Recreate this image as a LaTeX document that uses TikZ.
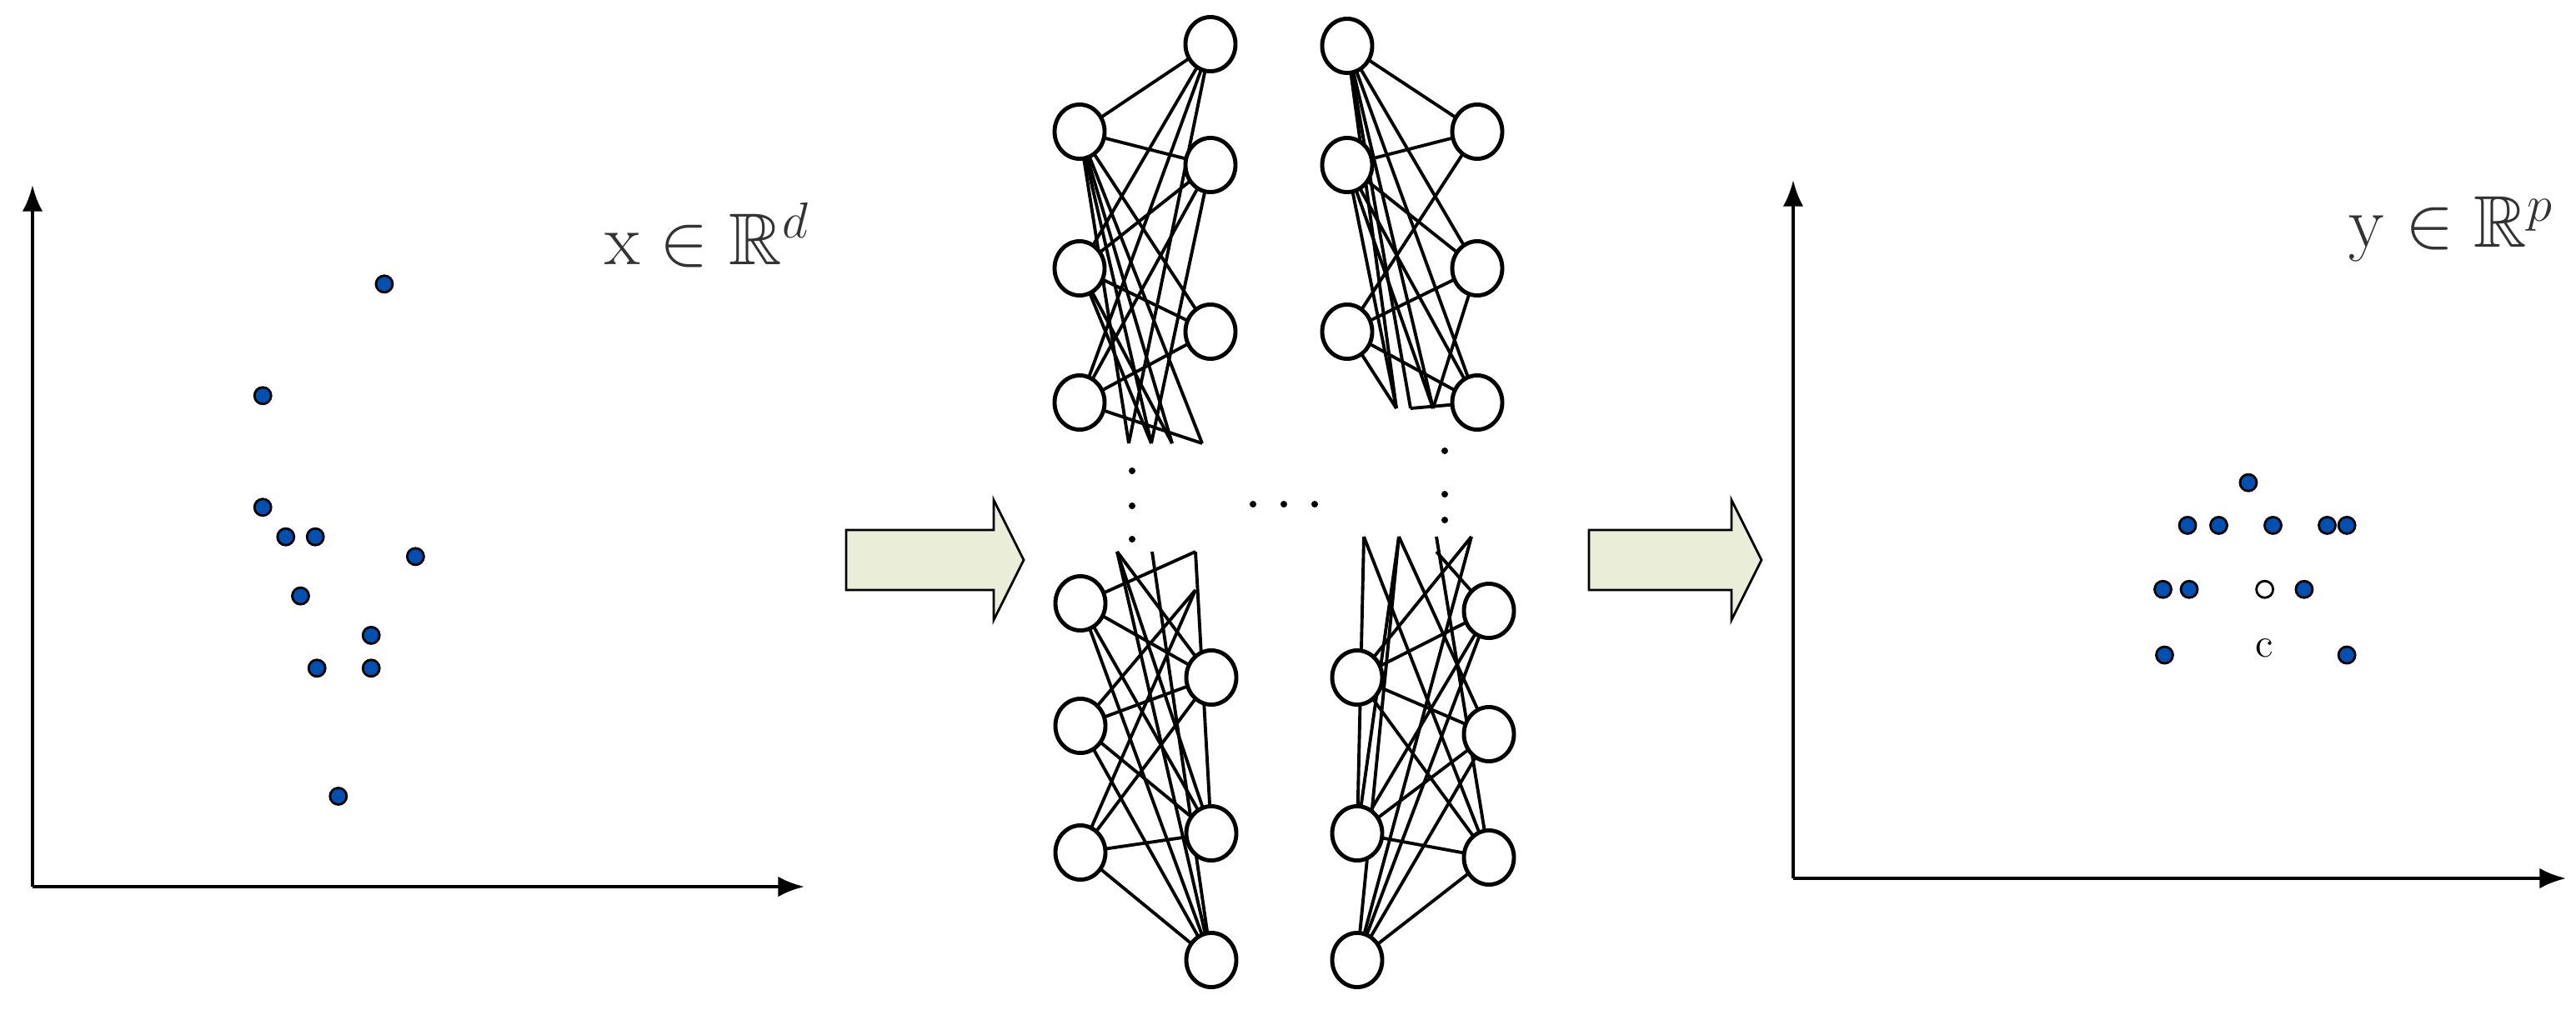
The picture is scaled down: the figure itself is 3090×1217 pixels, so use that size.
\documentclass[tikz,border=0pt]{standalone}
\usepackage{amssymb}
\usetikzlibrary{arrows.meta,shapes.geometric}
\begin{document}
\begin{tikzpicture}[x=0.01cm,y=-0.01cm,
  neuron/.style={ellipse,draw,line width=1.4pt,minimum width=6.0mm,minimum height=6.5mm,inner sep=0pt,fill=white},
  wire/.style={line width=1.1pt},
  pt/.style={circle,draw,line width=0.8pt,fill=blue!55!cyan!70!black,minimum size=2mm,inner sep=0pt},
  wpt/.style={pt,fill=white},
  ax/.style={line width=1.3pt,-{Latex[length=9pt,width=7pt]}},
  bigarrow/.style={draw,line width=0.8pt,fill=green!10!olive!15!white},
  lbl/.style={font=\fontsize{25}{30}\selectfont,text=black!80}]
\useasboundingbox (0,0) rectangle (3090,1217);
% axes
\coordinate (o1) at (39,1064); \coordinate (y1) at (39,222); \coordinate (x1) at (965,1064);
\draw[ax] (o1)--(y1); \draw[ax] (o1)--(x1);
\coordinate (o2) at (2151,1054); \coordinate (y2) at (2151,216); \coordinate (x2) at (3078,1054);
\draw[ax] (o2)--(y2); \draw[ax] (o2)--(x2);
\node[lbl] (lx) at (848,282) {$\mathrm{x}\in\mathbb{R}^{d}$};
\node[lbl] (ly) at (2940,275) {$\mathrm{y}\in\mathbb{R}^{p}$};
% left points
\foreach \p/\q [count=\i] in {234/173,160/241,160/309,174/327,192/327,253/339,183/363,226/387,193/407,226/407,206/485}
  \node[pt] (pl\i) at ({\p*1.97},{\q*1.97}) {};
% right points
\foreach \p/\q [count=\i] in {1369/294,1332/320,1351/320,1384/320,1417/320,1429/320,1317/359,1333/359,1403/359,1318/399,1429/399}
  \node[pt] (pr\i) at ({\p*1.97},{\q*1.97}) {};
\node[wpt] (pc) at ({1379*1.97},{359*1.97}) {};
\node[font=\fontsize{14}{16}\selectfont] (cl) at ({1379*1.97},{395*1.97}) {c};
% big arrows
\draw[bigarrow] (1015,636) -- (1192,636) -- (1192,600) -- (1228,672) -- (1192,744) -- (1192,708) -- (1015,708) -- cycle;
\draw[bigarrow] (1906,636) -- (2077,636) -- (2077,600) -- (2113,672) -- (2077,744) -- (2077,708) -- (1906,708) -- cycle;
% loose-end coordinates
\foreach \n/\p/\q in {a1/1354/532,a2/1381/532,a3/1406/532,a4/1442/532,
  b1/1675/490,b2/1692/490,b3/1719/490,
  c1/1340/662,c2/1382/662,c3/1434/662,c4/1434/708,
  d1/1636/644,d2/1678/644,d3/1723/644,d4/1765/644,d5/1723/662}
  \coordinate (\n) at (\p,\q);
% nodes coordinates
\foreach \n/\p/\q in {L1/1295/158,L2/1295/322,L3/1295/483,R1/1452/53,R2/1452/198,R3/1452/398,
  A1/1616/55,A2/1616/198,A3/1616/398,B1/1772/158,B2/1772/322,B3/1772/483,
  C1/1296/724,C2/1296/871,C3/1296/1023,D1/1453/813,D2/1453/1000,D3/1453/1152,
  F1/1628/813,F2/1628/1000,F3/1628/1152,G1/1786/733,G2/1786/881,G3/1786/1029}
  \coordinate (\n) at (\p,\q);
% wires
\foreach \u in {L1,L2,L3} \foreach \v in {R1,R2,R3} \draw[wire] (\u)--(\v);
\foreach \u in {A1,A2,A3} \foreach \v in {B1,B2,B3} \draw[wire] (\u)--(\v);
\foreach \u in {C1,C2,C3} \foreach \v in {D1,D2,D3} \draw[wire] (\u)--(\v);
\foreach \u in {F1,F2,F3} \foreach \v in {G1,G2,G3} \draw[wire] (\u)--(\v);
\foreach \u/\v in {L1/a1,L1/a2,L1/a3,L1/a4,L2/a2,L2/a3,R1/a1,R2/a2,L3/a4,
  A1/b1,A1/b2,A1/b3,A2/b1,A2/b3,A3/b1,B3/b2,B2/b3,
  D3/c1,D3/c2,D2/c1,D2/c3,C1/c3,C2/c4,C3/c4,D1/c1,
  F3/d2,F3/d4,F2/d2,G3/d1,G3/d3,G2/d2,F1/d4,G1/d5,F2/d1}
  \draw[wire] (\u)--(\v);
% neurons
\foreach \n in {L1,L2,L3,R1,R2,R3,A1,A2,A3,B1,B2,B3,C1,C2,C3,D1,D2,D3,F1,F2,F3,G1,G2,G3}
  \node[neuron] (n\n) at (\n) {};
% dots
\foreach \p/\q in {1358/565,1358/607,1358/647,1503/605,1540/605,1577/605,1733/541,1733/593,1733/624}
  \fill (\p,\q) circle (4);
\end{tikzpicture}
\end{document}
